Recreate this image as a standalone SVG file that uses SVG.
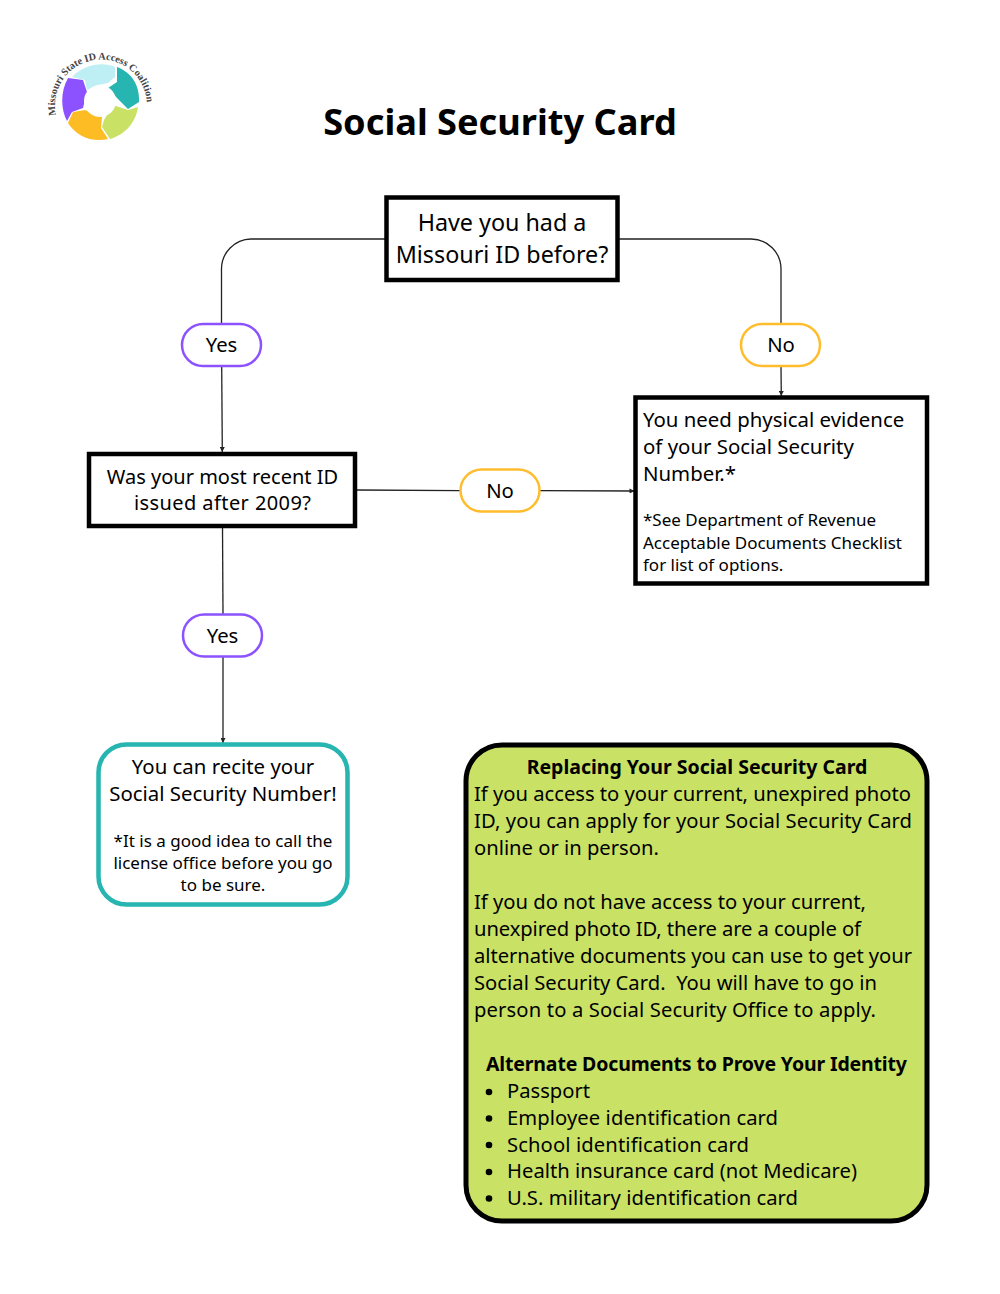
<svg xmlns="http://www.w3.org/2000/svg" width="1000" height="1294" viewBox="0 0 1000 1294">
<style>
text{font-family:"Noto Sans","Open Sans",sans-serif;fill:#000}
.m{text-anchor:middle}
.b{font-weight:700}
.l22{font-size:23.3px}
.l20{font-size:20.4px}
.g{font-size:20.2px}
.gb{font-size:19.5px;font-weight:700}
.l2{font-size:20px}
.l17{font-size:17px}
.pill{font-size:20.3px;text-anchor:middle}
.box{fill:#fff;stroke:#000;stroke-width:4.5}
.yes{fill:#fff;stroke:#8c52ff;stroke-width:2.5}
.no{fill:#fff;stroke:#ffbd2e;stroke-width:2.5}
.c{fill:none;stroke:#222;stroke-width:1.3}
text.lg{font-family:"Liberation Serif",serif;font-weight:700;font-size:10.2px;fill:#444}
</style>
<defs><marker id="a" viewBox="0 0 6 6" refX="6" refY="3" markerWidth="5" markerHeight="5" markerUnits="userSpaceOnUse" orient="auto"><path d="M0 0L6 3L0 6Z" fill="#222"/></marker>
<path id="arc" d="M56 115A46 46 0 1 1 146 115"/></defs>
<g id="logo">
<path d="M68 78L83 80L87 92L83 108L72 112L67 121C61 110 60 92 68 78Z" fill="#8c52ff"/>
<path d="M72 77C83 65 103 61 115 67L115 77L108 83L98 85L87 90L85 80Z" fill="#bdeff5"/>
<path d="M117 67C131 72 140 85 139 102L128 109L117 98L108 88L117 82Z" fill="#26b5b0"/>
<path d="M138 107C136 122 125 135 110 139L102 127L104 120L113 105L128 110Z" fill="#c9e265"/>
<path d="M68 123L73 112L85 110L102 117L101 128L108 139C92 143 76 136 68 123Z" fill="#fdbb24"/>
<circle cx="100" cy="101" r="16" fill="#fff"/>
<text class="lg"><textPath href="#arc">Missouri State ID Access Coalition</textPath></text>
</g>
<text id="title" x="500" y="135" class="m b" font-size="36.200">Social Security Card</text>
<g id="connectors">
<path class="c" d="M386 239H251A30 30 0 0 0 221.500 269V323"/>
<path class="c" d="M618 239H751A30 30 0 0 1 781 269V323"/>
<path class="c" d="M221.700 366L222.300 452" marker-end="url(#a)"/>
<path class="c" d="M781 367L781.300 396" marker-end="url(#a)"/>
<path class="c" d="M357 490L460 490.700"/>
<path class="c" d="M540 490.700L634.500 491" marker-end="url(#a)"/>
<path class="c" d="M222.500 527L223 614"/>
<path class="c" d="M223 657V743" marker-end="url(#a)"/>
</g>
<g id="n1"><rect class="box" x="386.500" y="197.500" width="231" height="82.500"/>
<text class="l22 m" x="502" y="231">Have you had a</text><text class="l22 m" x="502" y="263">Missouri ID before?</text></g>
<g id="yes1"><rect class="yes" x="182" y="324" width="79" height="42" rx="21"/><text class="pill" x="221.500" y="352">Yes</text></g>
<g id="no1"><rect class="no" x="741" y="324" width="79" height="42" rx="21"/><text class="pill" x="781" y="352">No</text></g>
<g id="n2"><rect class="box" x="89" y="454" width="266" height="72"/>
<text class="l2 m" x="222.500" y="483.500">Was your most recent ID</text><text class="l2 m" x="222.500" y="510" textLength="177">issued after 2009?</text></g>
<g id="no2"><rect class="no" x="460.500" y="469.500" width="79" height="42" rx="21"/><text class="pill" x="500" y="497.500">No</text></g>
<g id="n3"><rect class="box" x="635.500" y="397.500" width="291.500" height="186"/>
<text class="l20" x="643" y="427">You need physical evidence</text><text class="l20" x="643" y="454">of your Social Security</text><text class="l20" x="643" y="480.500">Number.*</text>
<text class="l17" x="643" y="526">*See Department of Revenue</text><text class="l17" x="643" y="548.500">Acceptable Documents Checklist</text><text class="l17" x="643" y="570.500">for list of options.</text></g>
<g id="yes2"><rect class="yes" x="183" y="614.500" width="79" height="42" rx="21"/><text class="pill" x="222.500" y="642.500">Yes</text></g>
<g id="n4"><rect x="98.500" y="744.500" width="249" height="160" rx="28" fill="#fff" stroke="#26b5b0" stroke-width="4.500"/>
<text class="l20 m" x="223" y="774">You can recite your</text><text class="l20 m" x="223" y="801">Social Security Number!</text>
<text class="l17 m" x="223" y="846.500">*It is a good idea to call the</text><text class="l17 m" x="223" y="868.500">license office before you go</text><text class="l17 m" x="223" y="890.500">to be sure.</text></g>
<g id="n5"><rect x="466" y="745" width="461" height="476" rx="36" fill="#c9e265" stroke="#000" stroke-width="5"/>
<text class="gb m" x="697" y="774">Replacing Your Social Security Card</text>
<text class="g" x="474" y="801" textLength="437">If you access to your current, unexpired photo</text>
<text class="g" x="474" y="828" textLength="438">ID, you can apply for your Social Security Card</text>
<text class="g" x="474" y="855">online or in person.</text>
<text class="g" x="474" y="909" textLength="392">If you do not have access to your current,</text>
<text class="g" x="474" y="936" textLength="387">unexpired photo ID, there are a couple of</text>
<text class="g" x="474" y="963" textLength="438">alternative documents you can use to get your</text>
<text class="g" x="474" y="990" xml:space="preserve" textLength="403">Social Security Card.  You will have to go in</text>
<text class="g" x="474" y="1017" textLength="402">person to a Social Security Office to apply.</text>
<text class="gb" x="486" y="1071" textLength="421">Alternate Documents to Prove Your Identity</text>
<circle cx="489" cy="1092" r="3.300"/><text class="g" x="507" y="1097.500" textLength="83">Passport</text>
<circle cx="489" cy="1118.500" r="3.300"/><text class="g" x="507" y="1125" textLength="271">Employee identification card</text>
<circle cx="489" cy="1145" r="3.300"/><text class="g" x="507" y="1152" textLength="242">School identification card</text>
<circle cx="489" cy="1172" r="3.300"/><text class="g" x="507" y="1178" textLength="350">Health insurance card (not Medicare)</text>
<circle cx="489" cy="1198.500" r="3.300"/><text class="g" x="507" y="1205" textLength="291">U.S. military identification card</text>
</g>
</svg>
